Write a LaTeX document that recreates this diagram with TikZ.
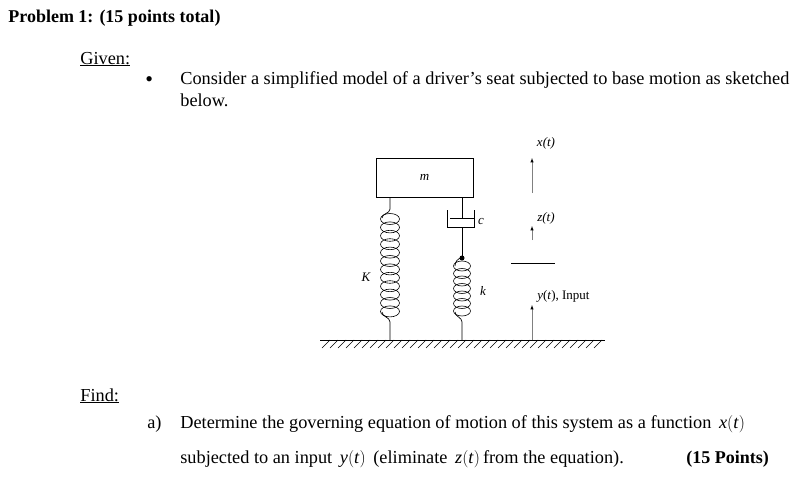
\documentclass[tikz,border=0pt]{standalone}
\usepackage{fontspec}
\setmainfont{Liberation Serif}
\begin{document}
\begin{tikzpicture}[x=1pt,y=-1pt,line width=0.7pt,
  txt/.style={anchor=base west,inner sep=0,font=\fontsize{18.3}{20}\selectfont},
  lbl/.style={inner sep=0,font=\fontsize{13}{14}\selectfont\itshape},
  arr/.style={draw=gray,line width=0.5pt,-{latex[black]}}]
\useasboundingbox (0,0) rectangle (812,479);
\node[txt,font=\fontsize{18}{20}\selectfont\bfseries] (title) at (8,23) {Problem 1: (15 points total)};
\node[txt] (given) at (80,64) {\underline{Given:}};
\node[txt,font=\fontsize{22}{22}\selectfont] (bul) at (145,86) {\textbullet};
\node[txt] (l1) at (180,84) {Consider a simplified model of a driver's seat subjected to base motion as sketched};
\node[txt] (l2) at (180,106) {below.};
\node[txt] (find) at (80,401) {\underline{Find:}};
\node[txt] (a) at (147,428) {a)};
\node[txt] (l3) at (180,428) {Determine the governing equation of motion of this system as a function \,\textit{x}$\bigl($\textit{t}$\bigr)$};
\node[txt] (l4) at (180,463) {subjected to an input \,\textit{y}$\bigl($\textit{t}$\bigr)$\, (eliminate \,\textit{z}$\bigl($\textit{t}$\bigr)$\,from the equation).};
\node[txt,font=\fontsize{18}{20}\selectfont\bfseries] (pts) at (686,463) {(15 Points)};
% ground
\coordinate (g1) at (320,340); \coordinate (g2) at (605,340);
\draw (g1) -- (g2);
\foreach \i in {0,...,34} \draw[line width=0.5pt] (322+8*\i,348) -- (330+8*\i,340);
% mass
\node[draw,minimum width=97pt,minimum height=39pt,inner sep=0] (m) at (424.5,177.5) {};
\node[lbl] at (m.center) {\textit{m}};
% K spring
\draw (390,197) -- (390,209) to[out=-90,in=90] (382,218);
\draw (390,340) -- (390,322) to[out=90,in=-90] (382,312);
\foreach \i in {0,...,11} \draw[line width=0.6pt] (390,219+8.4*\i) ellipse (9.5 and 5.5);
\node[lbl] (K) at (366,277) {\textit{K}};
% damper
\draw (462,197) -- (462,218);
\draw (450,218) -- (474,218);
\draw (447,210) -- (447,227) -- (474,227) -- (474,210);
\draw[line width=0.4pt] (462,227) -- (462,258);
\fill (462,258) circle (2.5);
\node[lbl] at (481,221) {\textit{c}};
% k spring
\draw (462,258) to[out=180,in=90] (455,266);
\foreach \i in {0,...,6} \draw[line width=0.6pt] (462,266+7.5*\i) ellipse (8.5 and 5);
\draw (462,340) -- (462,322) to[out=90,in=-90] (455,312);
\node[lbl] at (483,291) {\textit{k}};
% arrows
\draw[arr] (532,193) -- (532,158);
\node[lbl] at (546,143) {\textit{x}(\textit{t})};
\draw[arr] (532,240) -- (532,226);
\node[lbl] at (546,218) {\textit{z}(\textit{t})};
\draw (511,263) -- (555,263);
\draw[arr] (532,340) -- (532,305);
\node[anchor=west,inner sep=0,font=\fontsize{13}{14}\selectfont] at (537,296) {\textit{y}(\textit{t}), Input};
\end{tikzpicture}
\end{document}
